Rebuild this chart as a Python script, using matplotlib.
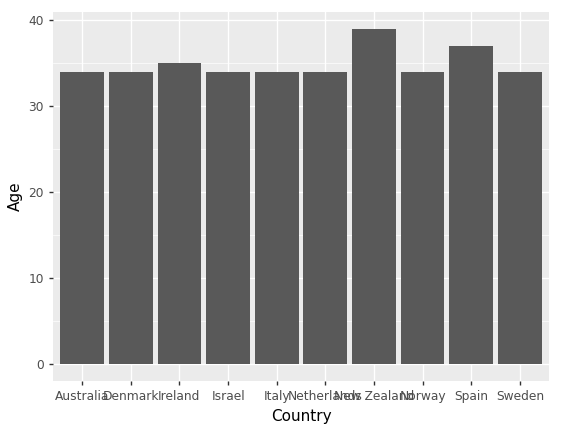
import matplotlib.pyplot as plt
import numpy as np

countries = ['Australia', 'Denmark', 'Ireland', 'Israel', 'Italy',
             'Netherlands', 'New Zealand', 'Norway', 'Spain', 'Sweden']
ages = [34, 34, 35, 34, 34, 34, 39, 34, 37, 34]

fig = plt.figure(figsize=(5.62, 4.33), dpi=100)
ax = fig.add_axes([0.0943, 0.1201, 0.8826, 0.8522])

x = np.arange(1, len(countries) + 1)

ax.set_facecolor('#EBEBEB')
# grid: minor first, then major
for v in [5, 15, 25, 35]:
    ax.axhline(v, color='white', lw=0.5, zorder=0)
for v in [0, 10, 20, 30, 40]:
    ax.axhline(v, color='white', lw=1.0, zorder=0)
for v in x:
    ax.axvline(v, color='white', lw=1.0, zorder=0)

ax.bar(x, ages, width=0.9, color='#595959', zorder=2)

ax.set_xlim(0.4, 10.6)
ax.set_ylim(-1.95, 40.95)
ax.set_xticks(x)
ax.set_xticklabels(countries)
ax.set_yticks([0, 10, 20, 30, 40])

for s in ax.spines.values():
    s.set_visible(False)
ax.tick_params(axis='both', colors='#333333', labelcolor='#4D4D4D',
               labelsize=8.8, length=3, width=1)
ax.set_xlabel('Country', fontsize=11)
ax.set_ylabel('Age', fontsize=11)

fig.savefig('out.png', dpi=100)
